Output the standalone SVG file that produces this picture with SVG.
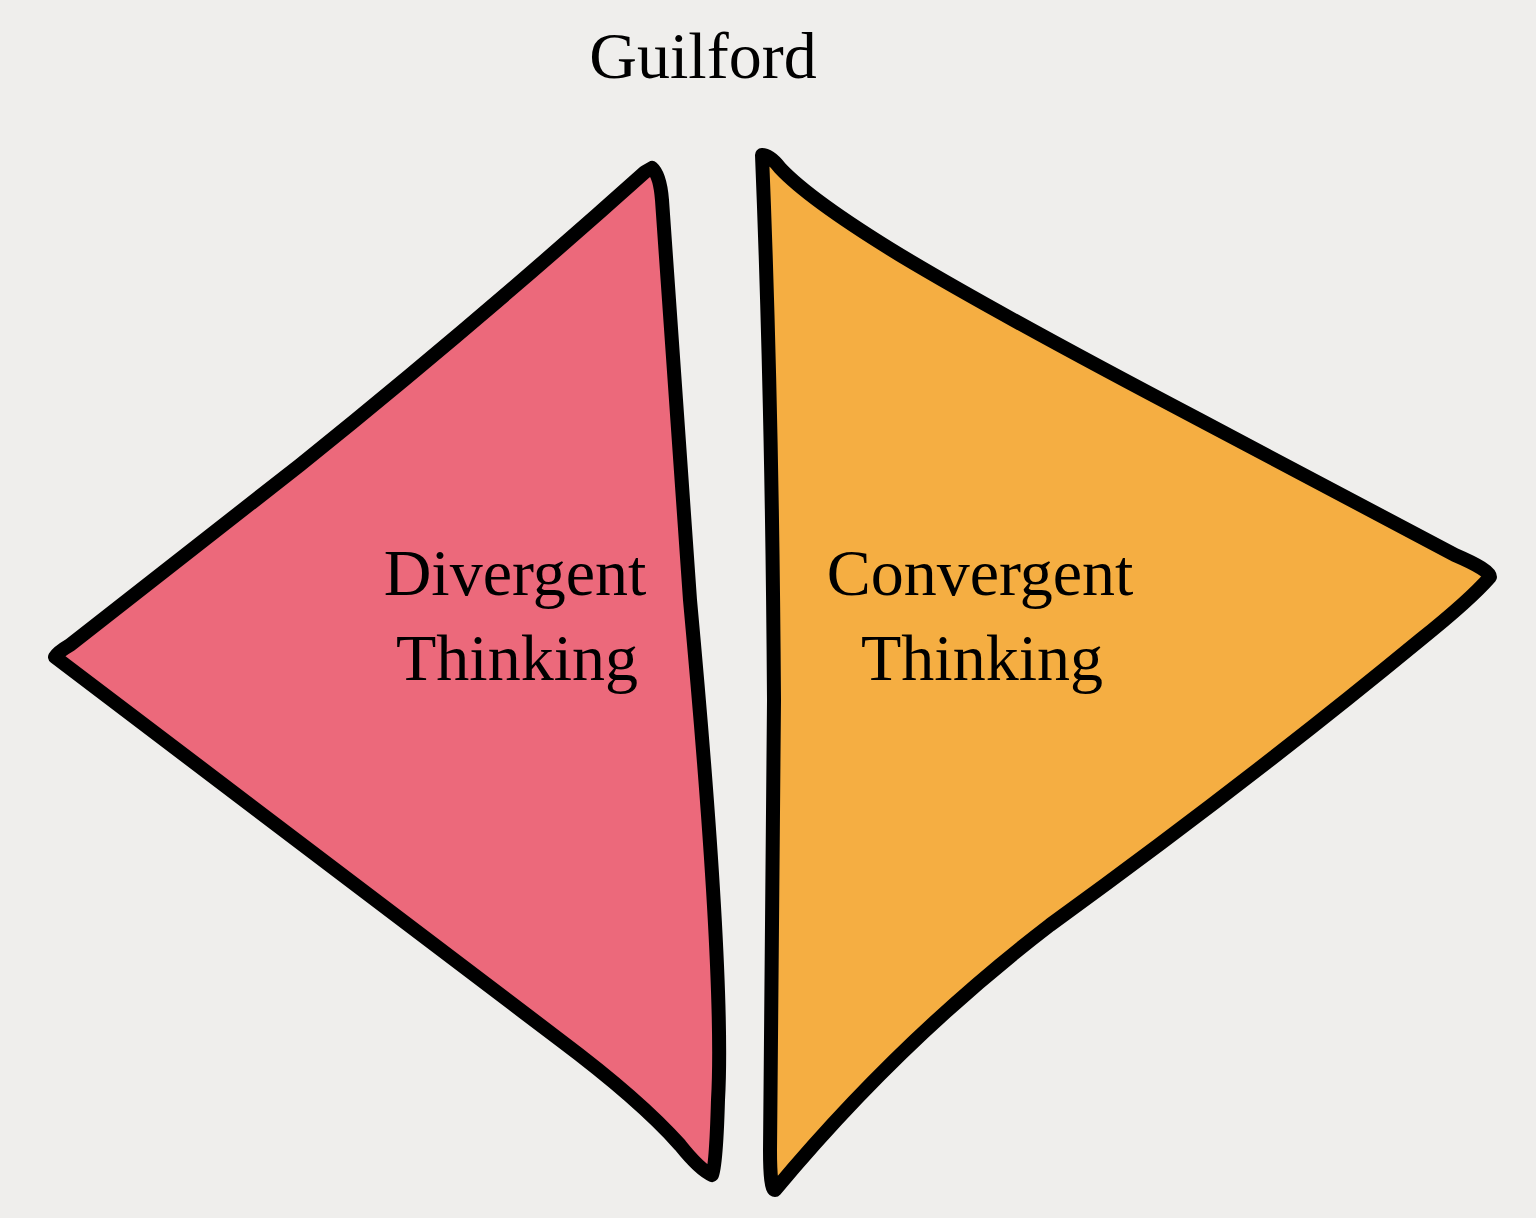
<svg xmlns="http://www.w3.org/2000/svg" width="1536" height="1218" viewBox="0 0 1536 1218">
<style>
.s{stroke:#000;stroke-width:14;stroke-linejoin:round;stroke-linecap:round}
.t{font-family:"Liberation Serif",serif;font-size:66px;fill:#000;text-anchor:middle}
</style>
<rect width="1536" height="1218" fill="#efeeec"/>
<g id="divergent">
<path class="s" fill="#ec697b" d="M652,168 Q660,175 662,200 L690,600 Q725,980 718,1100 Q716,1170 712,1175 Q700,1170 680,1145 Q640,1100 560,1040 L55,657 Q58,652 70,645 L300,465 Q480,320 645,172 Z"/>
<text class="t" x="515" y="595">Divergent</text>
<text class="t" x="517" y="680">Thinking</text>
</g>
<g id="convergent">
<path class="s" fill="#f5ae42" d="M762,155 Q770,155 780,168 Q810,200 900,255 Q1000,315 1200,420 L1455,555 Q1490,570 1490,577 Q1470,600 1420,640 Q1250,780 1050,925 Q900,1040 775,1190 Q770,1190 770,1150 L774,700 Q772,400 762,155 Z"/>
<text class="t" x="980" y="595">Convergent</text>
<text class="t" x="982" y="680">Thinking</text>
</g>
<g id="title"><text class="t" x="703" y="78">Guilford</text></g>
<g id="connectors"/>
</svg>
